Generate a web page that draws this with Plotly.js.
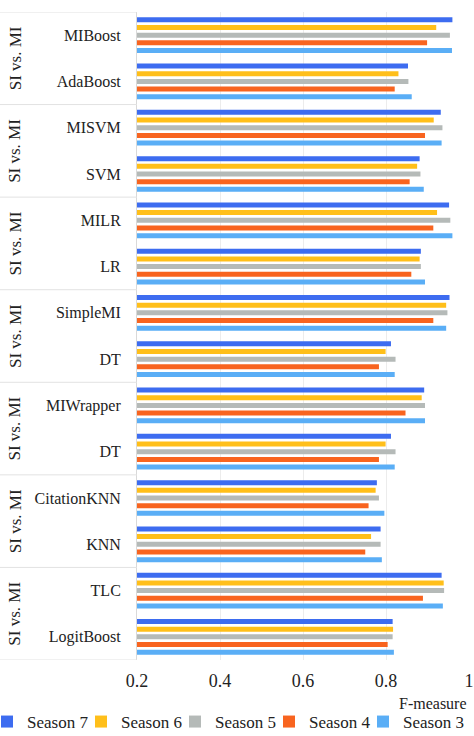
<!DOCTYPE html>
<html>
<head>
<meta charset="utf-8">
<script src="https://cdn.plot.ly/plotly-3.0.1.min.js"></script>
<style>
  html, body { margin: 0; padding: 0; background: #ffffff; }
  #chart { width: 474px; height: 736px; }
</style>
</head>
<body>
<div id="chart"></div>
<script>
// Classifiers, paired as single-instance vs. multi-instance (top to bottom)
const classifiers = ["MIBoost", "AdaBoost", "MISVM", "SVM", "MILR", "LR",
  "SimpleMI", "DT", "MIWrapper", "DT", "CitationKNN", "KNN", "TLC", "LogitBoost"];
const pairLabel = "SI vs. MI";

// F-measure per season, same order as classifiers
const season7 = [0.960, 0.853, 0.932, 0.881, 0.952, 0.884, 0.953, 0.812, 0.892, 0.812, 0.778, 0.787, 0.934, 0.816];
const season6 = [0.921, 0.830, 0.915, 0.875, 0.923, 0.881, 0.945, 0.799, 0.886, 0.799, 0.775, 0.764, 0.939, 0.817];
const season5 = [0.954, 0.854, 0.936, 0.883, 0.955, 0.884, 0.948, 0.823, 0.894, 0.823, 0.783, 0.787, 0.940, 0.816];
const season4 = [0.899, 0.821, 0.894, 0.857, 0.914, 0.861, 0.914, 0.783, 0.847, 0.783, 0.758, 0.750, 0.889, 0.804];
const season3 = [0.959, 0.862, 0.934, 0.891, 0.960, 0.894, 0.945, 0.821, 0.894, 0.821, 0.796, 0.790, 0.937, 0.819];

const seasonNames = ["Season 7", "Season 6", "Season 5", "Season 4", "Season 3"];
const seasonColors = ["#3d6cf0", "#ffbf1a", "#b5bab8", "#f8641f", "#5aaef6"];
const seasonValues = [season7, season6, season5, season4, season3];

const xTickVals = [0.2, 0.4, 0.6, 0.8, 1.0];
const xTickText = ["0.2", "0.4", "0.6", "0.8", "1"];

const rowPos = classifiers.map((_, i) => i);
const serif = "'Liberation Serif', 'Times New Roman', Times, serif";
const PLOT_W = 332, PLOT_H = 648;

const traces = seasonNames.map((name, k) => ({
  type: "bar",
  orientation: "h",
  name: name,
  x: seasonValues[k],
  y: rowPos,
  marker: { color: seasonColors[k], line: { width: 0 } },
  hoverinfo: "x+name"
}));

// Separator lines in the label column between the classifier pairs
const shapes = [];
for (let b = 0; b <= classifiers.length; b += 2) {
  shapes.push({
    type: "line", xref: "paper", yref: "y",
    x0: -137 / PLOT_W, x1: 0, y0: b - 0.5, y1: b - 0.5,
    line: { color: "#e2e2e2", width: 1 }
  });
}

// Rotated pair labels
const annotations = [];
for (let p = 0; p < classifiers.length; p += 2) {
  annotations.push({
    text: pairLabel, xref: "paper", yref: "y",
    x: -122 / PLOT_W, y: p + 0.5, xanchor: "center", yanchor: "middle",
    textangle: -90, showarrow: false,
    font: { family: serif, size: 17, color: "#222222" }
  });
}
annotations.push({
  text: "F-measure", xref: "paper", yref: "paper",
  x: 1, y: -43 / PLOT_H, xanchor: "right", yanchor: "middle", showarrow: false,
  font: { family: serif, size: 16, color: "#222222" }
});

const layout = {
  width: 474, height: 736,
  margin: { l: 137, r: 5, t: 12, b: 76, autoexpand: false },
  paper_bgcolor: "#ffffff", plot_bgcolor: "#ffffff",
  barmode: "group", bargap: 0.17, bargroupgap: 0.35,
  font: { family: serif, color: "#222222" },
  showlegend: true,
  legend: {
    orientation: "h", x: -150 / PLOT_W, xanchor: "left", y: -62 / PLOT_H, yanchor: "middle",
    font: { family: serif, size: 17, color: "#222222" },
    entrywidth: 49, entrywidthmode: "pixels", itemwidth: 30,
    traceorder: "normal", bgcolor: "rgba(0,0,0,0)"
  },
  xaxis: {
    range: [0.2, 1.0], tickvals: xTickVals, ticktext: xTickText,
    showgrid: true, gridcolor: "#ececec", gridwidth: 1,
    zeroline: false, showline: false, ticks: "",
    tickfont: { family: serif, size: 18, color: "#222222" },
    ticklabelstandoff: 8, fixedrange: true
  },
  yaxis: {
    range: [classifiers.length - 0.5, -0.5],
    tickvals: rowPos, ticktext: classifiers,
    showgrid: false, zeroline: false,
    showline: true, linecolor: "#d9d9d9", linewidth: 1, ticks: "",
    tickfont: { family: serif, size: 16, color: "#222222" },
    ticklabelstandoff: 12, fixedrange: true
  },
  shapes: shapes,
  annotations: annotations
};

Plotly.newPlot("chart", traces, layout, { displayModeBar: false, staticPlot: true })
  .then(gd => {
    // fixed-width legend entries: let the last label run past its slot
    gd.querySelectorAll(".legend .scrollbox").forEach(el => {
      el.removeAttribute("clip-path");
      el.style.clipPath = "none";
    });
  });
</script>
</body>
</html>
